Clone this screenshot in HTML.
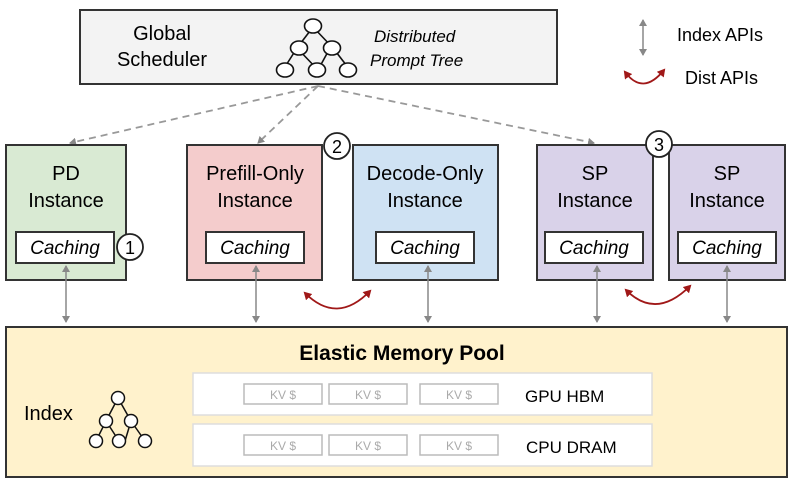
<!DOCTYPE html>
<html><head><style>
body{margin:0;background:#fff;}
svg text{font-family:"Liberation Sans",Arial,sans-serif;}
</style></head><body>
<svg width="793" height="485" viewBox="0 0 793 485" xmlns="http://www.w3.org/2000/svg">
<defs>
<marker id="ag" markerWidth="8" markerHeight="8" refX="6" refY="4" orient="auto-start-reverse" markerUnits="userSpaceOnUse"><path d="M0,0 L7,4 L0,8 z" fill="#888"/></marker>
<marker id="ar" markerWidth="9" markerHeight="9" refX="6" refY="4.5" orient="auto-start-reverse" markerUnits="userSpaceOnUse"><path d="M0,0 L8,4.5 L0,9 z" fill="#a01818"/></marker>
</defs>
<rect x="80" y="10" width="477" height="74" fill="#f3f3f3" stroke="#333" stroke-width="2"/>
<text x="162" y="40" font-size="20" text-anchor="middle">Global</text>
<text x="162" y="66" font-size="20" text-anchor="middle">Scheduler</text>
<g stroke="#111" stroke-width="1.6" fill="#fff">
<line x1="313" y1="27" x2="297" y2="48"/><line x1="313" y1="27" x2="333" y2="48"/>
<line x1="297" y1="48" x2="283" y2="70"/><line x1="297" y1="48" x2="318" y2="70"/><line x1="333" y1="48" x2="350" y2="70"/><line x1="330" y1="48" x2="318" y2="70"/>
<ellipse cx="313" cy="26" rx="8.5" ry="7"/><ellipse cx="299" cy="48" rx="8.5" ry="7"/><ellipse cx="332" cy="48" rx="8.5" ry="7"/>
<ellipse cx="285" cy="70" rx="8.5" ry="7"/><ellipse cx="317" cy="70" rx="8.5" ry="7"/><ellipse cx="348" cy="70" rx="8.5" ry="7"/>
</g>
<text x="374" y="42" font-size="17" font-style="italic">Distributed</text>
<text x="370" y="66" font-size="17" font-style="italic">Prompt Tree</text>
<line x1="643" y1="20" x2="643" y2="55" stroke="#888" stroke-width="1.5" marker-start="url(#ag)" marker-end="url(#ag)"/>
<text x="677" y="41" font-size="18">Index APIs</text>
<path d="M625,72 Q643,96 664,70" fill="none" stroke="#a01818" stroke-width="1.8" marker-start="url(#ar)" marker-end="url(#ar)"/>
<text x="685" y="84" font-size="18">Dist APIs</text>
<g stroke="#999" stroke-width="1.8" stroke-dasharray="7,5" fill="none">
<line x1="318" y1="86" x2="70" y2="143" marker-end="url(#ag)"/>
<line x1="318" y1="86" x2="258" y2="143" marker-end="url(#ag)"/>
<line x1="318" y1="86" x2="594" y2="143" marker-end="url(#ag)"/>
</g>
<g stroke="#333" stroke-width="2">
<rect x="6" y="145" width="120" height="135" fill="#d9ead3"/>
<rect x="187" y="145" width="135" height="135" fill="#f4cccc"/>
<rect x="353" y="145" width="145" height="135" fill="#cfe2f3"/>
<rect x="537" y="145" width="116" height="135" fill="#d9d2e9"/>
<rect x="669" y="145" width="116" height="135" fill="#d9d2e9"/>
</g>
<g font-size="20" text-anchor="middle">
<text x="66" y="180">PD</text><text x="66" y="207">Instance</text>
<text x="255" y="180">Prefill-Only</text><text x="255" y="207">Instance</text>
<text x="425" y="180">Decode-Only</text><text x="425" y="207">Instance</text>
<text x="595" y="180">SP</text><text x="595" y="207">Instance</text>
<text x="727" y="180">SP</text><text x="727" y="207">Instance</text>
</g>
<g stroke="#333" stroke-width="2" fill="#fff">
<rect x="16" y="232" width="98" height="31"/>
<rect x="206" y="232" width="98" height="31"/>
<rect x="376" y="232" width="98" height="31"/>
<rect x="545" y="232" width="98" height="31"/>
<rect x="678" y="232" width="98" height="31"/>
</g>
<g font-size="19" font-style="italic" text-anchor="middle">
<text x="65" y="254">Caching</text><text x="255" y="254">Caching</text><text x="425" y="254">Caching</text><text x="594" y="254">Caching</text><text x="727" y="254">Caching</text>
</g>
<g stroke="#222" stroke-width="1.8" fill="#fff">
<circle cx="130" cy="247" r="13"/><circle cx="337" cy="146" r="13"/><circle cx="659" cy="144" r="13"/>
</g>
<g font-size="18" text-anchor="middle">
<text x="130" y="254">1</text><text x="337" y="153">2</text><text x="659" y="151">3</text>
</g>
<g stroke="#888" stroke-width="1.5">
<line x1="66" y1="266" x2="66" y2="322" marker-start="url(#ag)" marker-end="url(#ag)"/>
<line x1="256" y1="266" x2="256" y2="322" marker-start="url(#ag)" marker-end="url(#ag)"/>
<line x1="428" y1="266" x2="428" y2="322" marker-start="url(#ag)" marker-end="url(#ag)"/>
<line x1="597" y1="266" x2="597" y2="322" marker-start="url(#ag)" marker-end="url(#ag)"/>
<line x1="727" y1="266" x2="727" y2="322" marker-start="url(#ag)" marker-end="url(#ag)"/>
</g>
<path d="M305,293 Q337,325 370,291" fill="none" stroke="#a01818" stroke-width="1.8" marker-start="url(#ar)" marker-end="url(#ar)"/>
<path d="M626,290 Q656,320 690,286" fill="none" stroke="#a01818" stroke-width="1.8" marker-start="url(#ar)" marker-end="url(#ar)"/>
<rect x="6" y="327" width="781" height="150" fill="#fff2cc" stroke="#333" stroke-width="2"/>
<text x="402" y="360" font-size="21" font-weight="bold" text-anchor="middle">Elastic Memory Pool</text>
<rect x="193" y="373" width="459" height="42" fill="#fff" stroke="#ddd" stroke-width="1.5"/>
<rect x="193" y="424" width="459" height="42" fill="#fff" stroke="#ddd" stroke-width="1.5"/>
<g fill="#fff" stroke="#bbb" stroke-width="1.5">
<rect x="244" y="384" width="78" height="20"/><rect x="329" y="384" width="78" height="20"/><rect x="420" y="384" width="78" height="20"/>
<rect x="244" y="435" width="78" height="20"/><rect x="329" y="435" width="78" height="20"/><rect x="420" y="435" width="78" height="20"/>
</g>
<g font-size="12" fill="#aaa" text-anchor="middle">
<text x="283" y="399">KV $</text><text x="368" y="399">KV $</text><text x="459" y="399">KV $</text>
<text x="283" y="450">KV $</text><text x="368" y="450">KV $</text><text x="459" y="450">KV $</text>
</g>
<text x="525" y="402" font-size="17">GPU HBM</text>
<text x="526" y="453" font-size="17">CPU DRAM</text>
<text x="24" y="420" font-size="20">Index</text>
<g stroke="#111" stroke-width="1.5" fill="#fff">
<line x1="118" y1="398" x2="106" y2="421"/><line x1="118" y1="398" x2="131" y2="421"/>
<line x1="106" y1="421" x2="96" y2="441"/><line x1="106" y1="421" x2="119" y2="441"/><line x1="131" y1="421" x2="145" y2="441"/><line x1="131" y1="421" x2="125" y2="441"/>
<circle cx="118" cy="398" r="6.5"/><circle cx="106" cy="421" r="6.5"/><circle cx="131" cy="421" r="6.5"/>
<circle cx="96" cy="441" r="6.5"/><circle cx="119" cy="441" r="6.5"/><circle cx="145" cy="441" r="6.5"/>
</g>
</svg>
</body></html>
